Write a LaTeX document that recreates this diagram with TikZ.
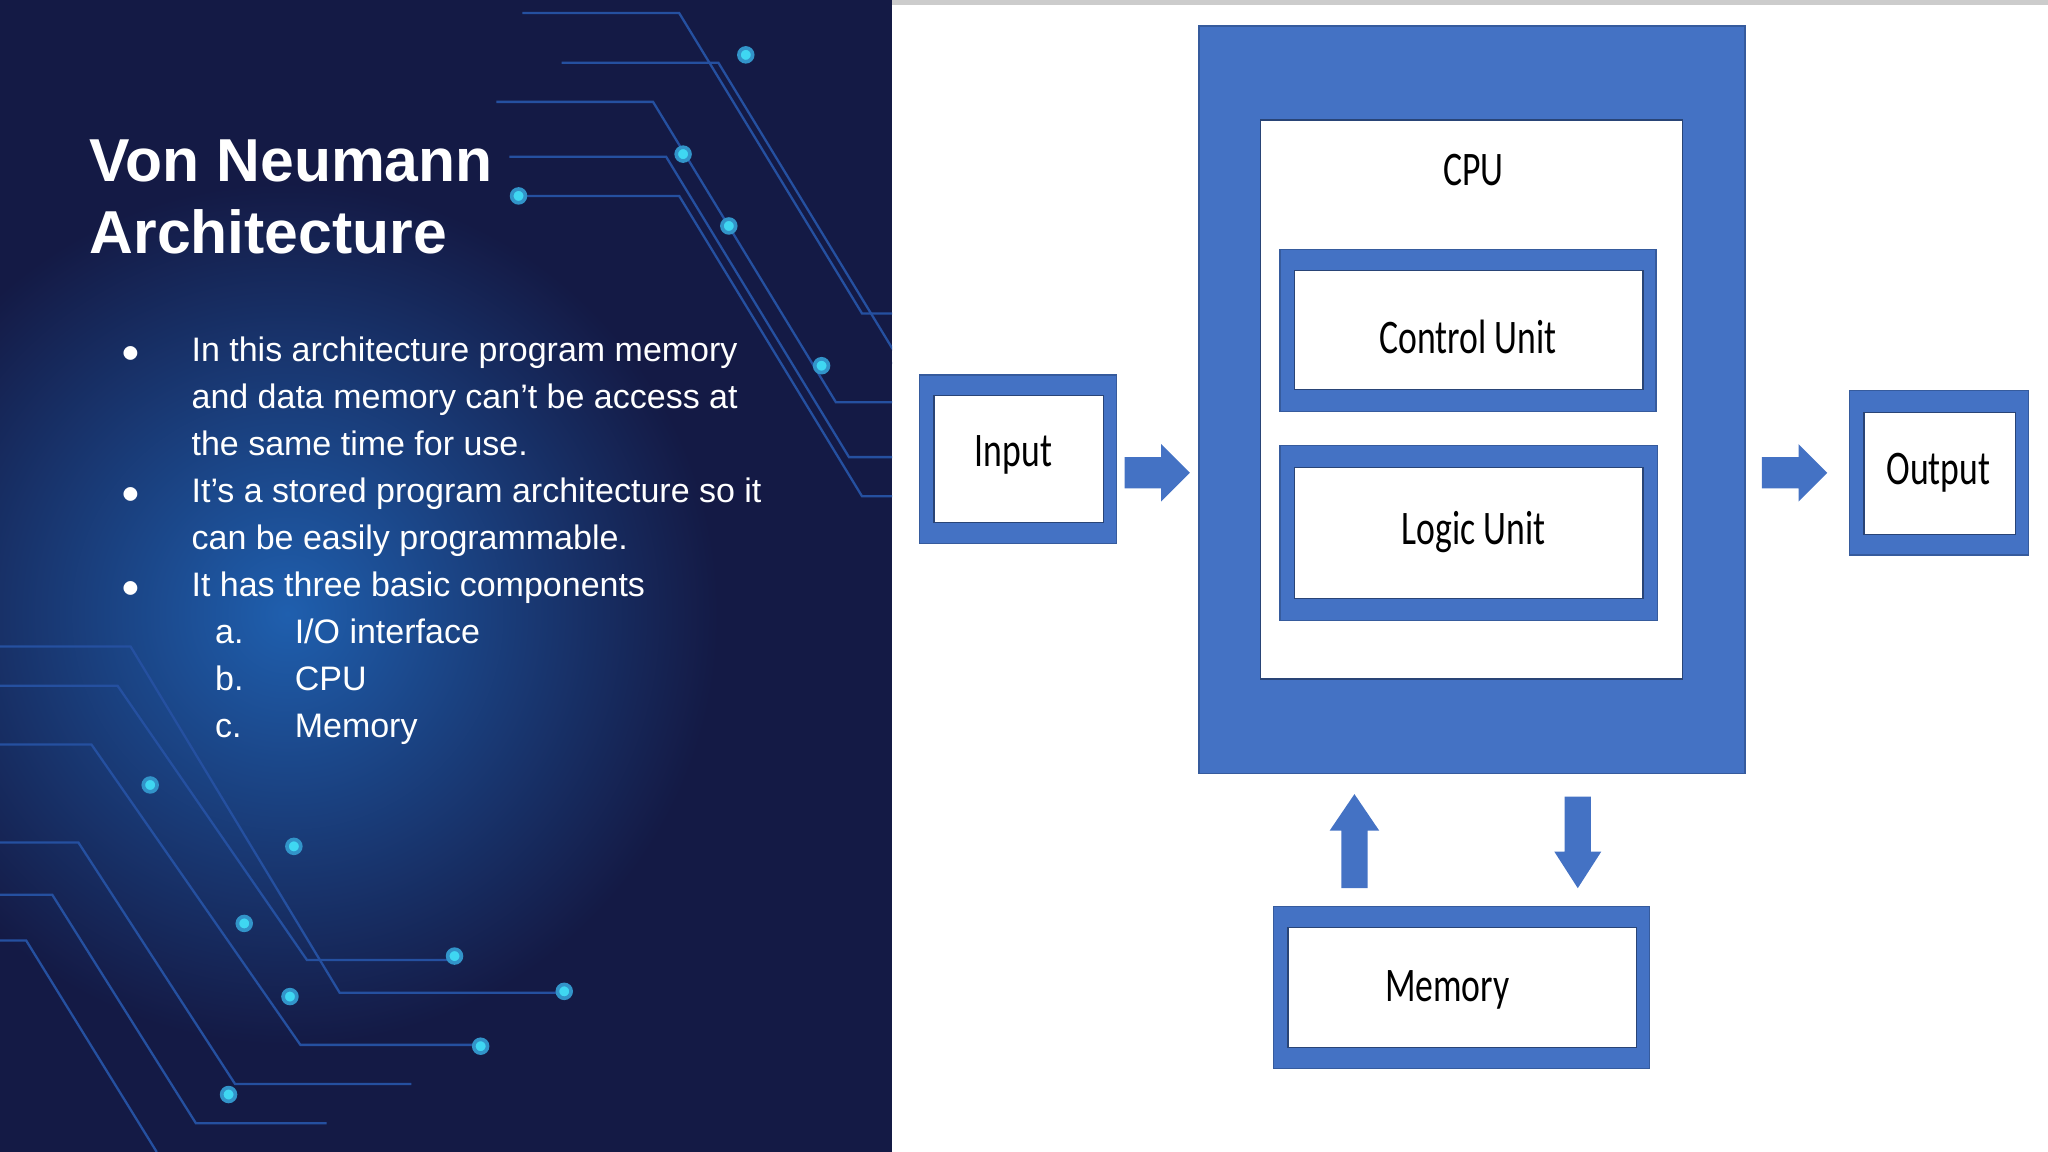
\documentclass[tikz,border=0pt]{standalone}
\usepackage{fontspec}
\setmainfont{Liberation Sans}
\newfontfamily\carlitofont{Carlito}
\definecolor{navy}{HTML}{141A45}
\definecolor{glow}{HTML}{1F5FAE}
\definecolor{bx}{HTML}{4472C4}
\definecolor{trace}{HTML}{2550A0}
\definecolor{cyanL}{HTML}{3FD7F2}
\begin{document}
\begin{tikzpicture}[x=0.01cm,y=-0.01cm,
  outer/.style={fill=bx,draw=bx!80!black,line width=0.3pt},
  inner/.style={fill=white,draw=bx!60!black,line width=0.3pt},
  lbl/.style={font=\carlitofont\fontsize{10.5}{12}\selectfont,xscale=0.74,transform shape},
  tr/.style={draw=trace,line width=0.5pt},
  dot/.style={circle,fill=cyanL,inner sep=0pt,minimum size=3pt,draw=cyanL!50!trace,line width=0.8pt},
  harr/.style={fill=bx},
]
\useasboundingbox (0,0) rectangle (1568,882);
% left panel
\fill[navy] (0,0) rectangle (683,882);
\begin{scope}
\clip (0,0) rectangle (683,882);
\shade[inner color=glow,outer color=navy] (220,470) circle (330);
\foreach \y/\x in {10/400,48/430,78/380,120/390,150/400}{
  \draw[tr] (\x,\y) -- (\x+120,\y) -- (\x+260,\y+230) -- (683,\y+230);}
\draw[tr] (0,495) -- (100,495) -- (260,760) -- (430,760);
\draw[tr] (0,525) -- (90,525) -- (235,735) -- (350,735);
\draw[tr] (0,570) -- (70,570) -- (230,800) -- (370,800);
\draw[tr] (0,645) -- (60,645) -- (180,830) -- (315,830);
\draw[tr] (0,685) -- (40,685) -- (150,860) -- (250,860);
\draw[tr] (0,720) -- (20,720) -- (120,882);
\foreach \p in {(571,42),(523,118),(397,150),(558,173),(629,280),(115,601),(225,648),(187,707),(348,732),(222,763),(432,759),(368,801),(175,838)}
  \node[dot] at \p {};
\end{scope}
\node[anchor=north west,align=left,text=white,font=\bfseries\fontsize{13.2}{15.8}\selectfont,inner sep=0pt] (title) at (68,106) {Von Neumann\\Architecture};
\begin{scope}[every node/.style={text=white,anchor=base west,inner sep=0pt,font=\fontsize{7.4}{10}\selectfont}]
\node (b1) at (92,277) {$\bullet$};
\node (t1) at (146,277) {In this architecture program memory};
\node (t1b) at (146,313) {and data memory can’t be access at};
\node (t1c) at (146,349) {the same time for use.};
\node (b2) at (92,385) {$\bullet$};
\node (t2) at (146,385) {It’s a stored program architecture so it};
\node (t2b) at (146,421) {can be easily programmable.};
\node (b3) at (92,457) {$\bullet$};
\node (t3) at (146,457) {It has three basic components};
\node (la) at (164,493) {a.}; \node (ia) at (225,493) {I/O interface};
\node (lb) at (164,529) {b.}; \node (ib) at (225,529) {CPU};
\node (lc) at (164,565) {c.}; \node (ic) at (225,565) {Memory};
\end{scope}
% right panel
\draw[gray!40,line width=1pt] (683,2) -- (1568,2);
\draw[outer] (918,20) rectangle (1336,592);
\draw[inner] (965,92) rectangle (1288,520);
\node[lbl] (cpu) at (1128,130) {CPU};
\draw[outer] (980,191) rectangle (1268,315);
\draw[inner] (991,207) rectangle (1258,298);
\node[lbl] (cu) at (1124,258) {Control Unit};
\draw[outer] (980,341) rectangle (1269,475);
\draw[inner] (991,358) rectangle (1258,458);
\node[lbl] (lu) at (1128,407) {Logic Unit};
\draw[outer] (704,287) rectangle (855,416);
\draw[inner] (715,303) rectangle (845,400);
\node[lbl] (in) at (776,348) {Input};
\draw[outer] (1416,299) rectangle (1553,425);
\draw[inner] (1427,316) rectangle (1543,409);
\node[lbl] (out) at (1484,362) {Output};
\draw[outer] (975,694) rectangle (1263,818);
\draw[inner] (986,710) rectangle (1253,802);
\node[lbl] (mem) at (1108,758) {Memory};
% block arrows
\foreach \x in {861,1349}
  \fill[harr] (\x,350) -- (\x+28,350) -- (\x+28,340) -- (\x+50,362) -- (\x+28,384) -- (\x+28,374) -- (\x,374) -- cycle;
\fill[harr] (1027,680) -- (1027,636) -- (1018,636) -- (1037,608) -- (1056,636) -- (1047,636) -- (1047,680) -- cycle;
\fill[harr] (1198,610) -- (1198,652) -- (1190,652) -- (1208,680) -- (1226,652) -- (1218,652) -- (1218,610) -- cycle;
\end{tikzpicture}
\end{document}
